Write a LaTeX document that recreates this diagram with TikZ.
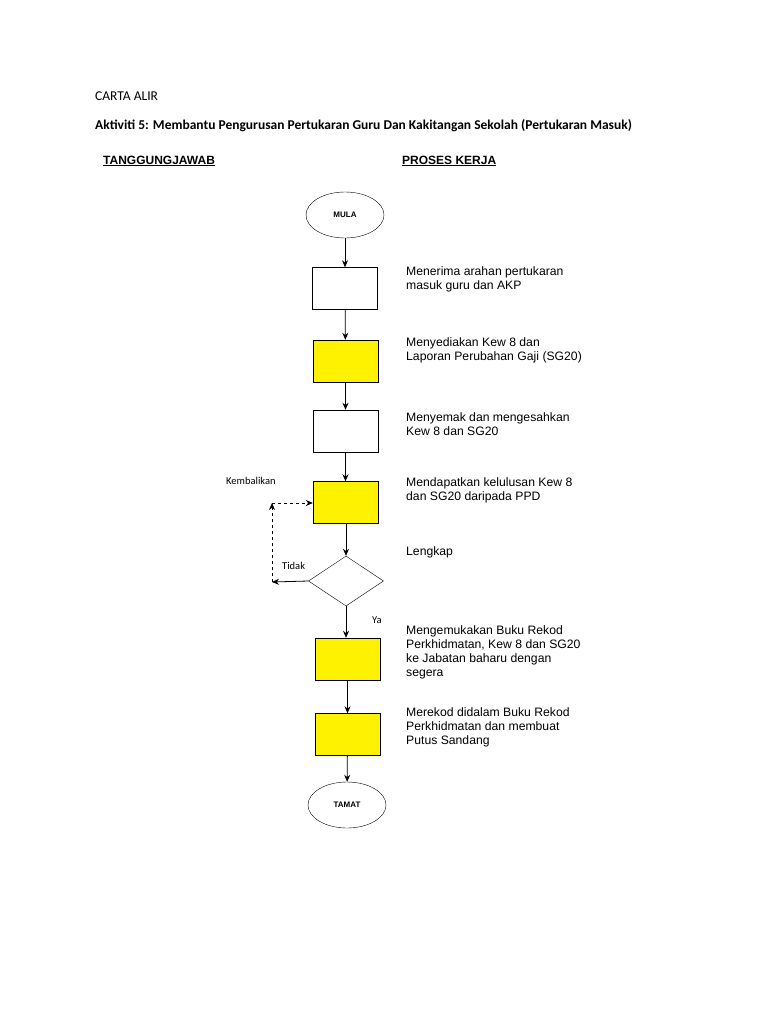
\documentclass[tikz,border=0pt]{standalone}
\usepackage{fontspec}
\setmainfont{Liberation Sans}
\newfontfamily\calfont{Carlito}
\usetikzlibrary{shapes.geometric,arrows.meta}
\begin{document}
\begin{tikzpicture}[x=1pt,y=-1pt,
  box/.style={draw,minimum width=65pt,minimum height=42pt,inner sep=0},
  ybox/.style={box,fill=yellow},
  term/.style={draw,ellipse,minimum width=78pt,minimum height=46pt,inner sep=0,font=\fontsize{8}{9}\selectfont\bfseries},
  dec/.style={draw,diamond,minimum width=75pt,minimum height=50pt,inner sep=0,aspect=1.5},
  desc/.style={anchor=north west,align=left,font=\fontsize{12.2}{14}\selectfont,inner sep=0},
  lbl/.style={font=\calfont\fontsize{11.5}{13}\selectfont,inner sep=0},
  arr/.style={-{Stealth[length=7pt,width=6pt]},line width=0.8pt}]
\useasboundingbox (0,0) rectangle (768,1024);
\node[lbl,anchor=west] (t1) at (95,96) {\fontsize{13.5}{15}\selectfont CARTA ALIR};
\node[lbl,anchor=west] (t2) at (95,126) {\fontsize{13.5}{15}\selectfont\bfseries Aktiviti 5: Membantu Pengurusan Pertukaran Guru Dan Kakitangan Sekolah (Pertukaran Masuk)};
\node[anchor=west,inner sep=0,font=\fontsize{12}{14}\selectfont\bfseries] (h1) at (103,161) {\underline{TANGGUNGJAWAB}};
\node[anchor=west,inner sep=0,font=\fontsize{12}{14}\selectfont\bfseries] (h2) at (402,161) {\underline{PROSES KERJA}};
\node[term] (mula) at (345,215) {MULA};
\node[box] (b1) at (345,288.5) {};
\node[ybox] (b2) at (345.5,361) {};
\node[box] (b3) at (345.5,431) {};
\node[ybox] (b4) at (345.5,502.5) {};
\node[dec] (d) at (346,581) {};
\node[ybox] (b5) at (347.5,659) {};
\node[ybox] (b6) at (347.5,734.5) {};
\node[term] (tamat) at (347,805) {TAMAT};
\draw[arr] (mula) -- (b1);
\draw[arr] (b1) -- (b2);
\draw[arr] (b2) -- (b3);
\draw[arr] (b3) -- (b4);
\draw[arr] (b4.south -| d.north) -- (d.north);
\draw[arr] (d.south) -- (d.south |- b5.north);
\draw[arr] (b5) -- (b6);
\draw[arr] (b6) -- (tamat);
\coordinate (c1) at (272,582);
\coordinate (c2) at (272,503);
\draw[arr] (d.west) -- (c1);
\draw[arr,dashed] (c1) -- (c2);
\draw[arr,dashed] (c2) -- (b4.west |- c2);
\node[lbl,anchor=west,font=\calfont\fontsize{10.5}{12}\selectfont] (kb) at (226,481) {Kembalikan};
\node[lbl,anchor=west,font=\calfont\fontsize{10.5}{12}\selectfont] (td) at (282,566) {Tidak};
\node[lbl,anchor=west,font=\calfont\fontsize{10.5}{12}\selectfont] (ya) at (372,620) {Ya};
\node[desc] (s1) at (406,266) {Menerima arahan pertukaran\\masuk guru dan AKP};
\node[desc] (s2) at (406,337) {Menyediakan Kew 8 dan\\Laporan Perubahan Gaji (SG20)};
\node[desc] (s3) at (406,412) {Menyemak dan mengesahkan\\Kew 8 dan SG20};
\node[desc] (s4) at (406,477) {Mendapatkan kelulusan Kew 8\\dan SG20 daripada PPD};
\node[desc] (s5) at (406,546) {Lengkap};
\node[desc] (s6) at (406,625) {Mengemukakan Buku Rekod\\Perkhidmatan, Kew 8 dan SG20\\ke Jabatan baharu dengan\\segera};
\node[desc] (s7) at (406,707) {Merekod didalam Buku Rekod\\Perkhidmatan dan membuat\\Putus Sandang};
\end{tikzpicture}
\end{document}
